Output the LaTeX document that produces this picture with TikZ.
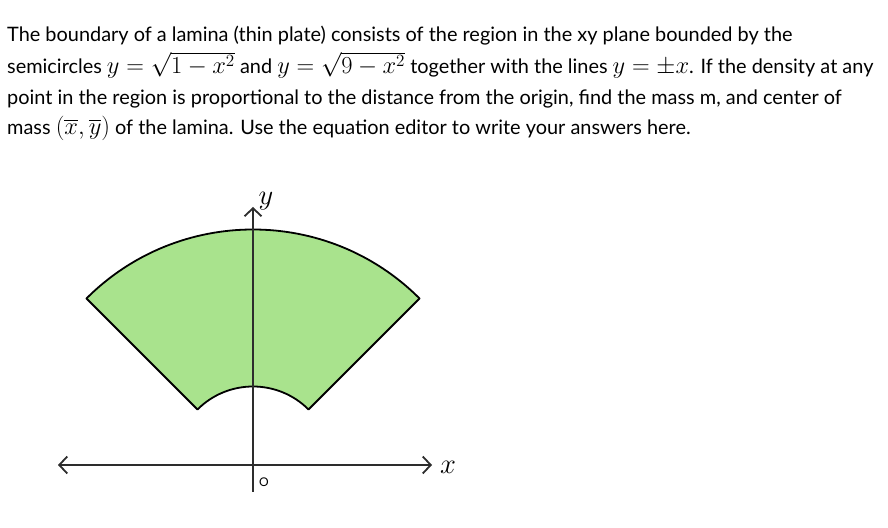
\RequirePackage{fix-cm}
\documentclass[tikz,border=0pt]{standalone}
\usepackage{amsmath}
\usepackage{graphicx}
\usepackage{fontspec}
\setmainfont{Lato}
\usepackage{xcolor}
\usetikzlibrary{arrows.meta}
\newcommand{\mth}[1]{\scalebox{1.23}{$#1$}}
\definecolor{laminagreen}{RGB}{169,227,141}
\definecolor{axisgray}{RGB}{45,45,45}

\begin{document}
\begin{tikzpicture}[x=1pt,y=1pt,
  txt/.style={anchor=base west, inner sep=0pt, font=\fontsize{19.9}{31}\selectfont},
  axis/.style={axisgray, line width=2.2pt, -{Straight Barb[length=8pt,width=17pt,line width=1.8pt]}},
  lamina/.style={fill=laminagreen, draw=black, line width=1.8pt, line join=round},
  hand/.style={inner sep=1pt, font=\fontsize{19}{19}\selectfont}]
\useasboundingbox (0,0) rectangle (888,527);
% question text
\node[txt] (line1) at (7,485) {The boundary of a lamina (thin plate) consists of the region in the xy plane bounded by the};
\node[txt] (line2) at (7,453) {semicircles \mth{y=\sqrt{1-x^2}} and \mth{y=\sqrt{9-x^2}} together with the lines \mth{y=\pm x}. If the density at any};
\node[txt] (line3) at (7,422) {point in the region is proportional to the distance from the origin, find the mass m, and center of};
\node[txt] (line4) at (7,392) {mass \mth{\left(\overline{x},\overline{y}\right)} of the lamina. Use the equation editor to write your answers here.};
% axes
\coordinate (O) at (253,62);
\coordinate (xl) at (58,62);
\coordinate (xr) at (432,62);
\coordinate (yb) at (253,35);
\coordinate (yt) at (253,320);
% the lamina
\begin{scope}[shift={(O)}, x=78.5pt, y=78.5pt]
\filldraw[lamina] (45:1) -- (45:3) arc[start angle=45, end angle=135, radius=3]
  -- (135:1) arc[start angle=135, end angle=45, radius=1] -- cycle;
\end{scope}
\draw[axis] (O) -- (xl);
\draw[axis] (O) -- (xr);
\draw[axis] (yb) -- (yt);
\node[hand] (xlab) at (448,60) {\scalebox{1.5}{$x$}};
\node[hand] (ylab) at (266,326) {\scalebox{1.5}{$y$}};
\node[hand, font=\fontsize{12}{12}\selectfont] (olab) at (264,45) {O};
\end{tikzpicture}
\end{document}
